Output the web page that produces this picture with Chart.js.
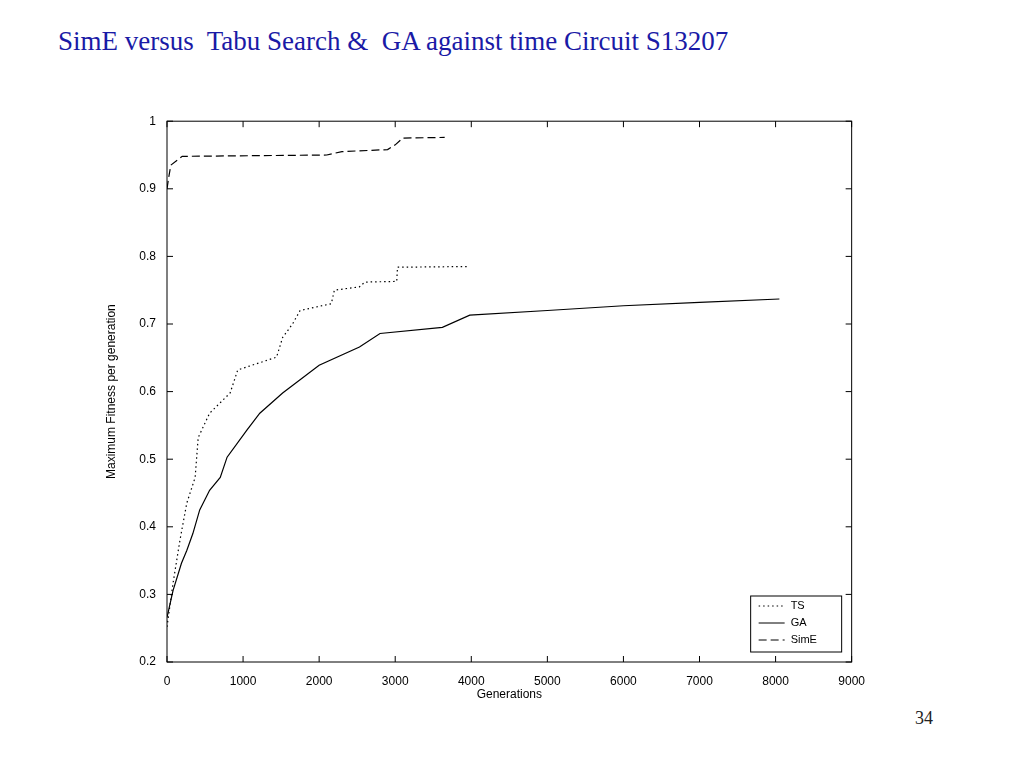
<!DOCTYPE html>
<html>
<head>
<meta charset="utf-8">
<script src="https://cdn.jsdelivr.net/npm/chart.js@4"></script>
<style>
  body { margin: 0; background: #fff; width: 1024px; height: 768px; position: relative; overflow: hidden; }
  #title { position: absolute; left: 58px; top: 26px; font-family: "Liberation Serif", serif; font-size: 27px; color: #1a1aa6; white-space: pre; }
  #page { position: absolute; left: 915px; top: 708px; font-family: "Liberation Serif", serif; font-size: 18px; color: #222; }
  #wrap { position: absolute; left: 100px; top: 111px; width: 769px; height: 591px; }
</style>
</head>
<body>
<div id="title">SimE versus  Tabu Search &amp;  GA against time Circuit S13207</div>
<div id="page">34</div>
<div id="wrap"><canvas id="chart"></canvas></div>
<script>
const xTicks = [0, 1000, 2000, 3000, 4000, 5000, 6000, 7000, 8000, 9000];
const yTicks = [0.2, 0.3, 0.4, 0.5, 0.6, 0.7, 0.8, 0.9, 1];

const tsX = [0, 80, 170, 260, 370, 410, 560, 830, 930, 1440, 1520, 1650, 1750, 2160, 2200, 2530, 2600, 3020, 3030, 3950];
const tsY = [0.252, 0.317, 0.38, 0.435, 0.473, 0.532, 0.568, 0.598, 0.632, 0.651, 0.68, 0.70, 0.72, 0.73, 0.75, 0.755, 0.762, 0.763, 0.784, 0.785];

const gaX = [0, 80, 190, 260, 340, 430, 560, 700, 790, 1050, 1220, 1520, 2000, 2530, 2800, 3620, 3980, 5000, 6000, 7000, 8050];
const gaY = [0.266, 0.306, 0.346, 0.365, 0.39, 0.425, 0.454, 0.473, 0.503, 0.543, 0.568, 0.598, 0.639, 0.666, 0.686, 0.695, 0.713, 0.72, 0.727, 0.732, 0.737];

const simeX = [0, 20, 50, 200, 2100, 2300, 2900, 3000, 3100, 3650];
const simeY = [0.9, 0.915, 0.935, 0.948, 0.95, 0.955, 0.958, 0.965, 0.975, 0.976];

function pts(xs, ys) {
  return xs.map((x, i) => ({ x: x, y: ys[i] }));
}

const frame = {
  id: 'frame',
  afterDraw(chart) {
    const ctx = chart.ctx;
    const a = chart.chartArea;
    const xs = chart.scales.x, ys = chart.scales.y;
    ctx.save();
    ctx.strokeStyle = '#000';
    ctx.lineWidth = 1;
    ctx.strokeRect(a.left, a.top, a.right - a.left, a.bottom - a.top);
    ctx.beginPath();
    xTicks.forEach(v => {
      const p = xs.getPixelForValue(v);
      ctx.moveTo(p, a.bottom); ctx.lineTo(p, a.bottom - 6);
      ctx.moveTo(p, a.top); ctx.lineTo(p, a.top + 6);
    });
    yTicks.forEach(v => {
      const p = ys.getPixelForValue(v);
      ctx.moveTo(a.left, p); ctx.lineTo(a.left + 6, p);
      ctx.moveTo(a.right, p); ctx.lineTo(a.right - 6, p);
    });
    ctx.stroke();

    // legend box, lower right
    const lx = a.right - 101, ly = a.bottom - 66, lw = 91, lh = 56;
    ctx.fillStyle = '#fff';
    ctx.fillRect(lx, ly, lw, lh);
    ctx.strokeRect(lx, ly, lw, lh);
    ctx.font = '11px "Liberation Sans", Arial, sans-serif';
    ctx.fillStyle = '#000';
    ctx.textBaseline = 'middle';
    chart.data.datasets.forEach((d, i) => {
      const yy = ly + 10 + i * 17;
      ctx.setLineDash(d.borderDash || []);
      ctx.beginPath();
      ctx.moveTo(lx + 8, yy); ctx.lineTo(lx + 34, yy);
      ctx.stroke();
      ctx.setLineDash([]);
      ctx.fillText(d.label, lx + 40, yy);
    });
    ctx.restore();
  }
};

const common = { borderColor: '#000', borderWidth: 1.2, pointRadius: 0, fill: false, tension: 0 };

new Chart(document.getElementById('chart'), {
  type: 'line',
  data: {
    datasets: [
      Object.assign({ label: 'TS', data: pts(tsX, tsY), borderDash: [1.5, 3] }, common),
      Object.assign({ label: 'GA', data: pts(gaX, gaY) }, common),
      Object.assign({ label: 'SimE', data: pts(simeX, simeY), borderDash: [8, 4] }, common)
    ]
  },
  options: {
    responsive: true,
    maintainAspectRatio: false,
    animation: false,
    layout: { padding: { top: 10, right: 16 } },
    plugins: { legend: { display: false }, tooltip: { enabled: false } },
    scales: {
      x: {
        type: 'linear', min: 0, max: 9000,
        afterBuildTicks: s => { s.ticks = xTicks.map(v => ({ value: v })); },
        afterFit: s => { s.height = 40; },
        grid: { display: false },
        border: { display: false },
        ticks: { color: '#000', padding: 4, maxRotation: 0, callback: v => String(v), font: { size: 12, family: '"Liberation Sans", Arial, sans-serif' } },
        title: { display: true, text: 'Generations', color: '#000', padding: { top: 0, bottom: 0 }, font: { size: 12, family: '"Liberation Sans", Arial, sans-serif' } }
      },
      y: {
        type: 'linear', min: 0.2, max: 1,
        afterBuildTicks: s => { s.ticks = yTicks.map(v => ({ value: v })); },
        afterFit: s => { s.width = 67; },
        grid: { display: false },
        border: { display: false },
        ticks: { color: '#000', padding: 3, callback: v => String(Math.round(v * 10) / 10), font: { size: 12, family: '"Liberation Sans", Arial, sans-serif' } },
        title: { display: true, text: 'Maximum Fitness per generation', color: '#000', padding: 4, font: { size: 12, family: '"Liberation Sans", Arial, sans-serif' } }
      }
    }
  },
  plugins: [frame]
});
</script>
</body>
</html>
